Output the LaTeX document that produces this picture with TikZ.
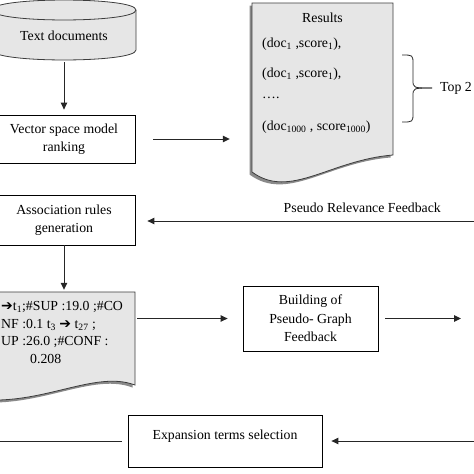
\documentclass[tikz,border=0pt]{standalone}
\usepackage{fontspec}
\setmainfont{Liberation Serif}
\newfontfamily\dingfont{DejaVu Sans}
\usetikzlibrary{arrows.meta,positioning,calc}
\definecolor{docgray}{HTML}{E6E6E6}
\definecolor{edgegray}{HTML}{3C3C3C}
\definecolor{shadowgray}{HTML}{8A8A8A}
\definecolor{linegray}{HTML}{262626}
\newcommand{\rarr}{{\dingfont\fontsize{14}{14}\selectfont ➔}}

\begin{document}
\begin{tikzpicture}[
  x=1pt, y=-1pt,
  font=\fontsize{13.8}{18.5}\selectfont,
  >={Triangle[length=7pt,width=6.5pt]},
  stepbox/.style={
    draw=black,
    fill=white,
    line width=0.8pt,
    inner sep=2pt,
    align=center
  },
  docshape/.style={
    draw=edgegray,
    fill=docgray,
    line width=0.8pt
  },
  docshadow/.style={
    fill=shadowgray
  },
  flow/.style={
    ->,
    line width=1pt,
    draw=linegray
  }
]
  \useasboundingbox (0,0) rectangle (474,474);
  \clip (0,0) rectangle (474,474);

  % Text collection (cylinder)
  \filldraw[docshape] (-8,10) -- (-8,50) .. controls (-8,63.3) and (136,63.3) .. (136,50)
    -- (136,10) .. controls (136,-3.3) and (-8,-3.3) .. (-8,10) -- cycle;
  \draw[docshape, fill=none] (-8,10) .. controls (-8,23.3) and (136,23.3) .. (136,10);
  \node[minimum width=144pt, minimum height=52pt, inner sep=0pt] (docs) at (64,36) {Text documents};

  % Ranked results (document)
  \fill[docshadow, xshift=-2.5pt, yshift=-2.5pt] (252,3) -- (393,3) -- (393,155)
    .. controls (330,160) and (290,200) .. (252,172) -- cycle;
  \filldraw[docshape] (252,3) -- (393,3) -- (393,155)
    .. controls (330,160) and (290,200) .. (252,172) -- cycle;
  \node[minimum width=141pt, minimum height=160pt, inner sep=0pt] (results) at (322.5,83) {};
  \node[below=10pt of results.north, inner sep=0pt] (restitle) {Results};
  \node[anchor=north west, align=left, inner sep=0pt] (reslist) at (262,38) {
    (doc\textsubscript{1} ,score\textsubscript{1}),\\[11pt]
    (doc\textsubscript{1} ,score\textsubscript{1}),\\[3pt]
    ….\\[13pt]
    (doc\textsubscript{1000} , score\textsubscript{1000})
  };

  % Top-ranked bracket
  \draw[line width=0.8pt, draw=linegray] (402,55) .. controls (413,55) .. (413,64) -- (413,80)
    .. controls (413,88) .. (432,88);
  \draw[line width=0.8pt, draw=linegray] (402,122) .. controls (413,122) .. (413,113) -- (413,96)
    .. controls (413,88) .. (432,88);
  \node[anchor=west, inner sep=0pt] (top) at (440,88) {Top 2};

  % Left column
  \node[stepbox, minimum width=142pt, minimum height=48pt] (vsm) at (64,139) {Vector space model\\ranking};
  \node[stepbox, minimum width=142pt, minimum height=50pt] (assoc) at (64,220) {Association rules\\generation};

  % Association rules (document)
  \fill[docshadow, xshift=-2.5pt, yshift=-2.5pt] (-45,292) -- (135,292) -- (135,385)
    .. controls (90,368) and (30,415) .. (-45,395) -- cycle;
  \filldraw[docshape] (-45,292) -- (135,292) -- (135,385)
    .. controls (90,368) and (30,415) .. (-45,395) -- cycle;
  \node[minimum width=180pt, minimum height=93pt, inner sep=0pt] (rulesdoc) at (45,338.5) {};
  \node[anchor=north west, align=left, inner sep=0pt, font=\fontsize{13.8}{17.7}\selectfont] (rules) at (1,301) {
    \rarr t\textsubscript{1};\#SUP :19.0 ;\#CO\\
    NF :0.1 t\textsubscript{3} \rarr\ t\textsubscript{27} ;\\
    UP :26.0 ;\#CONF :\\
    \hspace*{29pt}0.208
  };

  \node[stepbox, minimum width=135pt, minimum height=65pt] (build) at (310.5,318.5) {Building of\\Pseudo- Graph\\Feedback};
  \node[stepbox, minimum width=194pt, minimum height=52pt, text depth=12pt] (expand) at (225,441) {Expansion terms selection};

  % Free ends
  \coordinate (fbin) at (474,221);
  \coordinate (gout) at (461,318.5);
  \coordinate (xin) at (474,441);
  \coordinate (xout) at (0,441);

  % Connectors
  \draw[flow, shorten >=5pt] (docs.south) -- (vsm.north);
  \draw[flow, shorten <=18pt, shorten >=22pt] (vsm.east) -- (vsm.east -| results.west);
  \draw[flow, shorten >=12pt] (fbin) -- (fbin -| assoc.east)
    node[pos=0.33, above=8pt, inner sep=0pt] {Pseudo Relevance Feedback};
  \draw[flow, shorten >=2pt] (assoc.south) -- (assoc.south |- rulesdoc.north);
  \draw[flow, shorten <=2pt, shorten >=15pt] (rulesdoc.east |- build.west) -- (build.west);
  \draw[flow, shorten <=7pt] (build.east) -- (gout);
  \draw[flow, shorten >=9pt] (xin) -- (expand.east);
  \draw[line width=1pt, draw=linegray, shorten <=6pt] (expand.west) -- (xout);

\end{tikzpicture}
\end{document}
